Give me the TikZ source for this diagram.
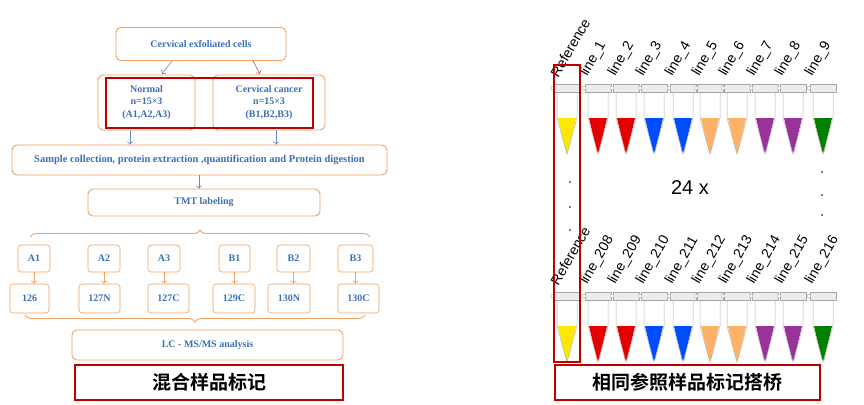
\documentclass[tikz,border=0pt]{standalone}
\usepackage{fontspec}
\setmainfont{Liberation Serif}
\newfontfamily\sansf{Liberation Sans}
\newfontfamily\cjk{Noto Sans CJK SC}[BoldFont={* Bold}]
\usetikzlibrary{decorations.pathreplacing,arrows.meta}
\definecolor{ob}{HTML}{F0A060}
\definecolor{tb}{HTML}{3A6FB8}
\definecolor{rb}{HTML}{C00000}
\begin{document}
\begin{tikzpicture}[x=1pt,y=-1pt,
  obox/.style={draw=ob,line width=0.9pt,rounded corners=5pt},
  ttext/.style={text=tb,font=\bfseries\fontsize{10}{12.5}\selectfont,align=center},
  barrow/.style={draw=tb!80,-{To[length=3pt]},line width=0.6pt},
  oarrow/.style={draw=ob,-{To[length=3pt]},line width=0.6pt},
  redbox/.style={draw=rb,line width=2pt},
  brc/.style={draw=ob,line width=0.9pt,decorate,decoration={brace,amplitude=7pt}},
  lbl/.style={font=\sansf\fontsize{14}{14}\selectfont,rotate=60,anchor=south west,inner sep=1pt},
  cjkl/.style={font=\cjk\bfseries\fontsize{19}{19}\selectfont}]
\useasboundingbox (0,0) rectangle (864,404);
% ---- left flowchart
\node[obox,minimum width=170pt,minimum height=33pt,ttext] (cells) at (201,44) {Cervical exfoliated cells};
\node[obox,minimum width=97pt,minimum height=55pt,ttext] (normal) at (146.5,102.5) {Normal\\n=15×3\\(A1,A2,A3)};
\node[obox,minimum width=112pt,minimum height=55pt,ttext] (cancer) at (269,102.5) {Cervical cancer\\n=15×3\\(B1,B2,B3)};
\node[redbox,minimum width=207pt,minimum height=50pt] (rsel) at (209.5,103) {};
\node[obox,minimum width=375pt,minimum height=30pt,ttext,font=\bfseries\fontsize{10.5}{12}\selectfont] (sample) at (199.5,160) {Sample collection, protein extraction ,quantification and Protein digestion};
\node[obox,minimum width=232pt,minimum height=27pt,ttext] (tmt) at (204,202.5) {TMT labeling};
\draw[barrow] (cells.south -| 172,0) -- (162,74);
\draw[draw=rb!70,-{To[length=3pt]},line width=0.6pt] (cells.south -| 253,0) -- (260,74);
\draw[barrow] (normal.south -| 130,0) -- (sample.north -| 130,0);
\draw[barrow] (cancer.south -| 276,0) -- (sample.north -| 276,0);
\draw[barrow] (sample.south -| 199,0) -- (tmt.north -| 199,0);
\foreach \n/\t/\x/\w in {a1/A1/34/32, a2/A2/104/32, a3/A3/164/32, b1/B1/234.5/31, b2/B2/293.5/33, b3/B3/355.5/35}{
  \node[obox,rounded corners=3pt,line width=0.6pt,minimum width=\w pt,minimum height=27pt,ttext] (\n) at (\x,258.5) {\t};
}
\foreach \m/\t/\x/\w in {l1/126/29.5/39, l2/127N/99.5/41, l3/127C/168.5/41, l4/129C/234/42, l5/130N/289/42, l6/130C/358.5/41}{
  \node[obox,rounded corners=3pt,line width=0.6pt,minimum width=\w pt,minimum height=29pt,ttext] (\m) at (\x,298.5) {\t};
}
\foreach \a/\b in {a1/l1,a2/l2,a3/l3,b1/l4,b2/l5,b3/l6}{\draw[oarrow] (\a.south) -- (\a.south |- \b.north);}
\draw[brc] (30,237) -- (370,237);
\draw[brc,decoration={mirror}] (25,315) -- (365,315);
\node[obox,minimum width=271pt,minimum height=30pt,ttext] (lc) at (207.5,345) {LC - MS/MS analysis};
\node[redbox,minimum width=268pt,minimum height=35pt,cjkl] (mix) at (209,382.5) {混合样品标记};
% ---- right tubes
\foreach \cy in {88,296}{
  \foreach \cx/\col in {567/{yellow!90!orange},598/{red!90!black},626/{red!90!black},654/{blue!70!cyan},683/{blue!70!cyan},710/{orange!60},737/{orange!60},765/{violet!80},793/{violet!80},823/{green!50!black}}{
    \fill[\col] (\cx-9,\cy+30) -- (\cx+9,\cy+30) -- (\cx+1,\cy+64) -- (\cx-1,\cy+64) -- cycle;
    \draw[gray!60,line width=0.5pt] (\cx-10,\cy+4) -- (\cx-10,\cy+30) -- (\cx,\cy+66) -- (\cx+10,\cy+30) -- (\cx+10,\cy+4);
    \draw[gray!70,fill=gray!15,line width=0.5pt] (\cx-13,\cy-4) rectangle (\cx+13,\cy+4);
    \draw[gray!70,fill=white,line width=0.4pt] (\cx-14,\cy) circle (2pt);
  }
}
\foreach \cx/\t in {567/Reference,598/line\_1,626/line\_2,654/line\_3,683/line\_4,710/line\_5,737/line\_6,765/line\_7,793/line\_8,823/line\_9}
  \node[lbl] (t\cx) at (\cx-8,80) {\t};
\foreach \cx/\t in {567/Reference,598/line\_208,626/line\_209,654/line\_210,683/line\_211,710/line\_212,737/line\_213,765/line\_214,793/line\_215,823/line\_216}
  \node[lbl] (u\cx) at (\cx-8,288) {\t};
\node[font=\sansf\fontsize{20}{20}\selectfont] (tf) at (690,188) {24 x};
\foreach \p in {(570,182),(570,207),(570,230),(822,172),(822,195),(822,215)} \fill \p circle (0.9pt);
\node[redbox,minimum width=26pt,minimum height=297pt] (refcol) at (567,213.5) {};
\node[redbox,minimum width=265pt,minimum height=35pt,cjkl] (bridge) at (687.5,382.5) {相同参照样品标记搭桥};
\end{tikzpicture}
\end{document}
